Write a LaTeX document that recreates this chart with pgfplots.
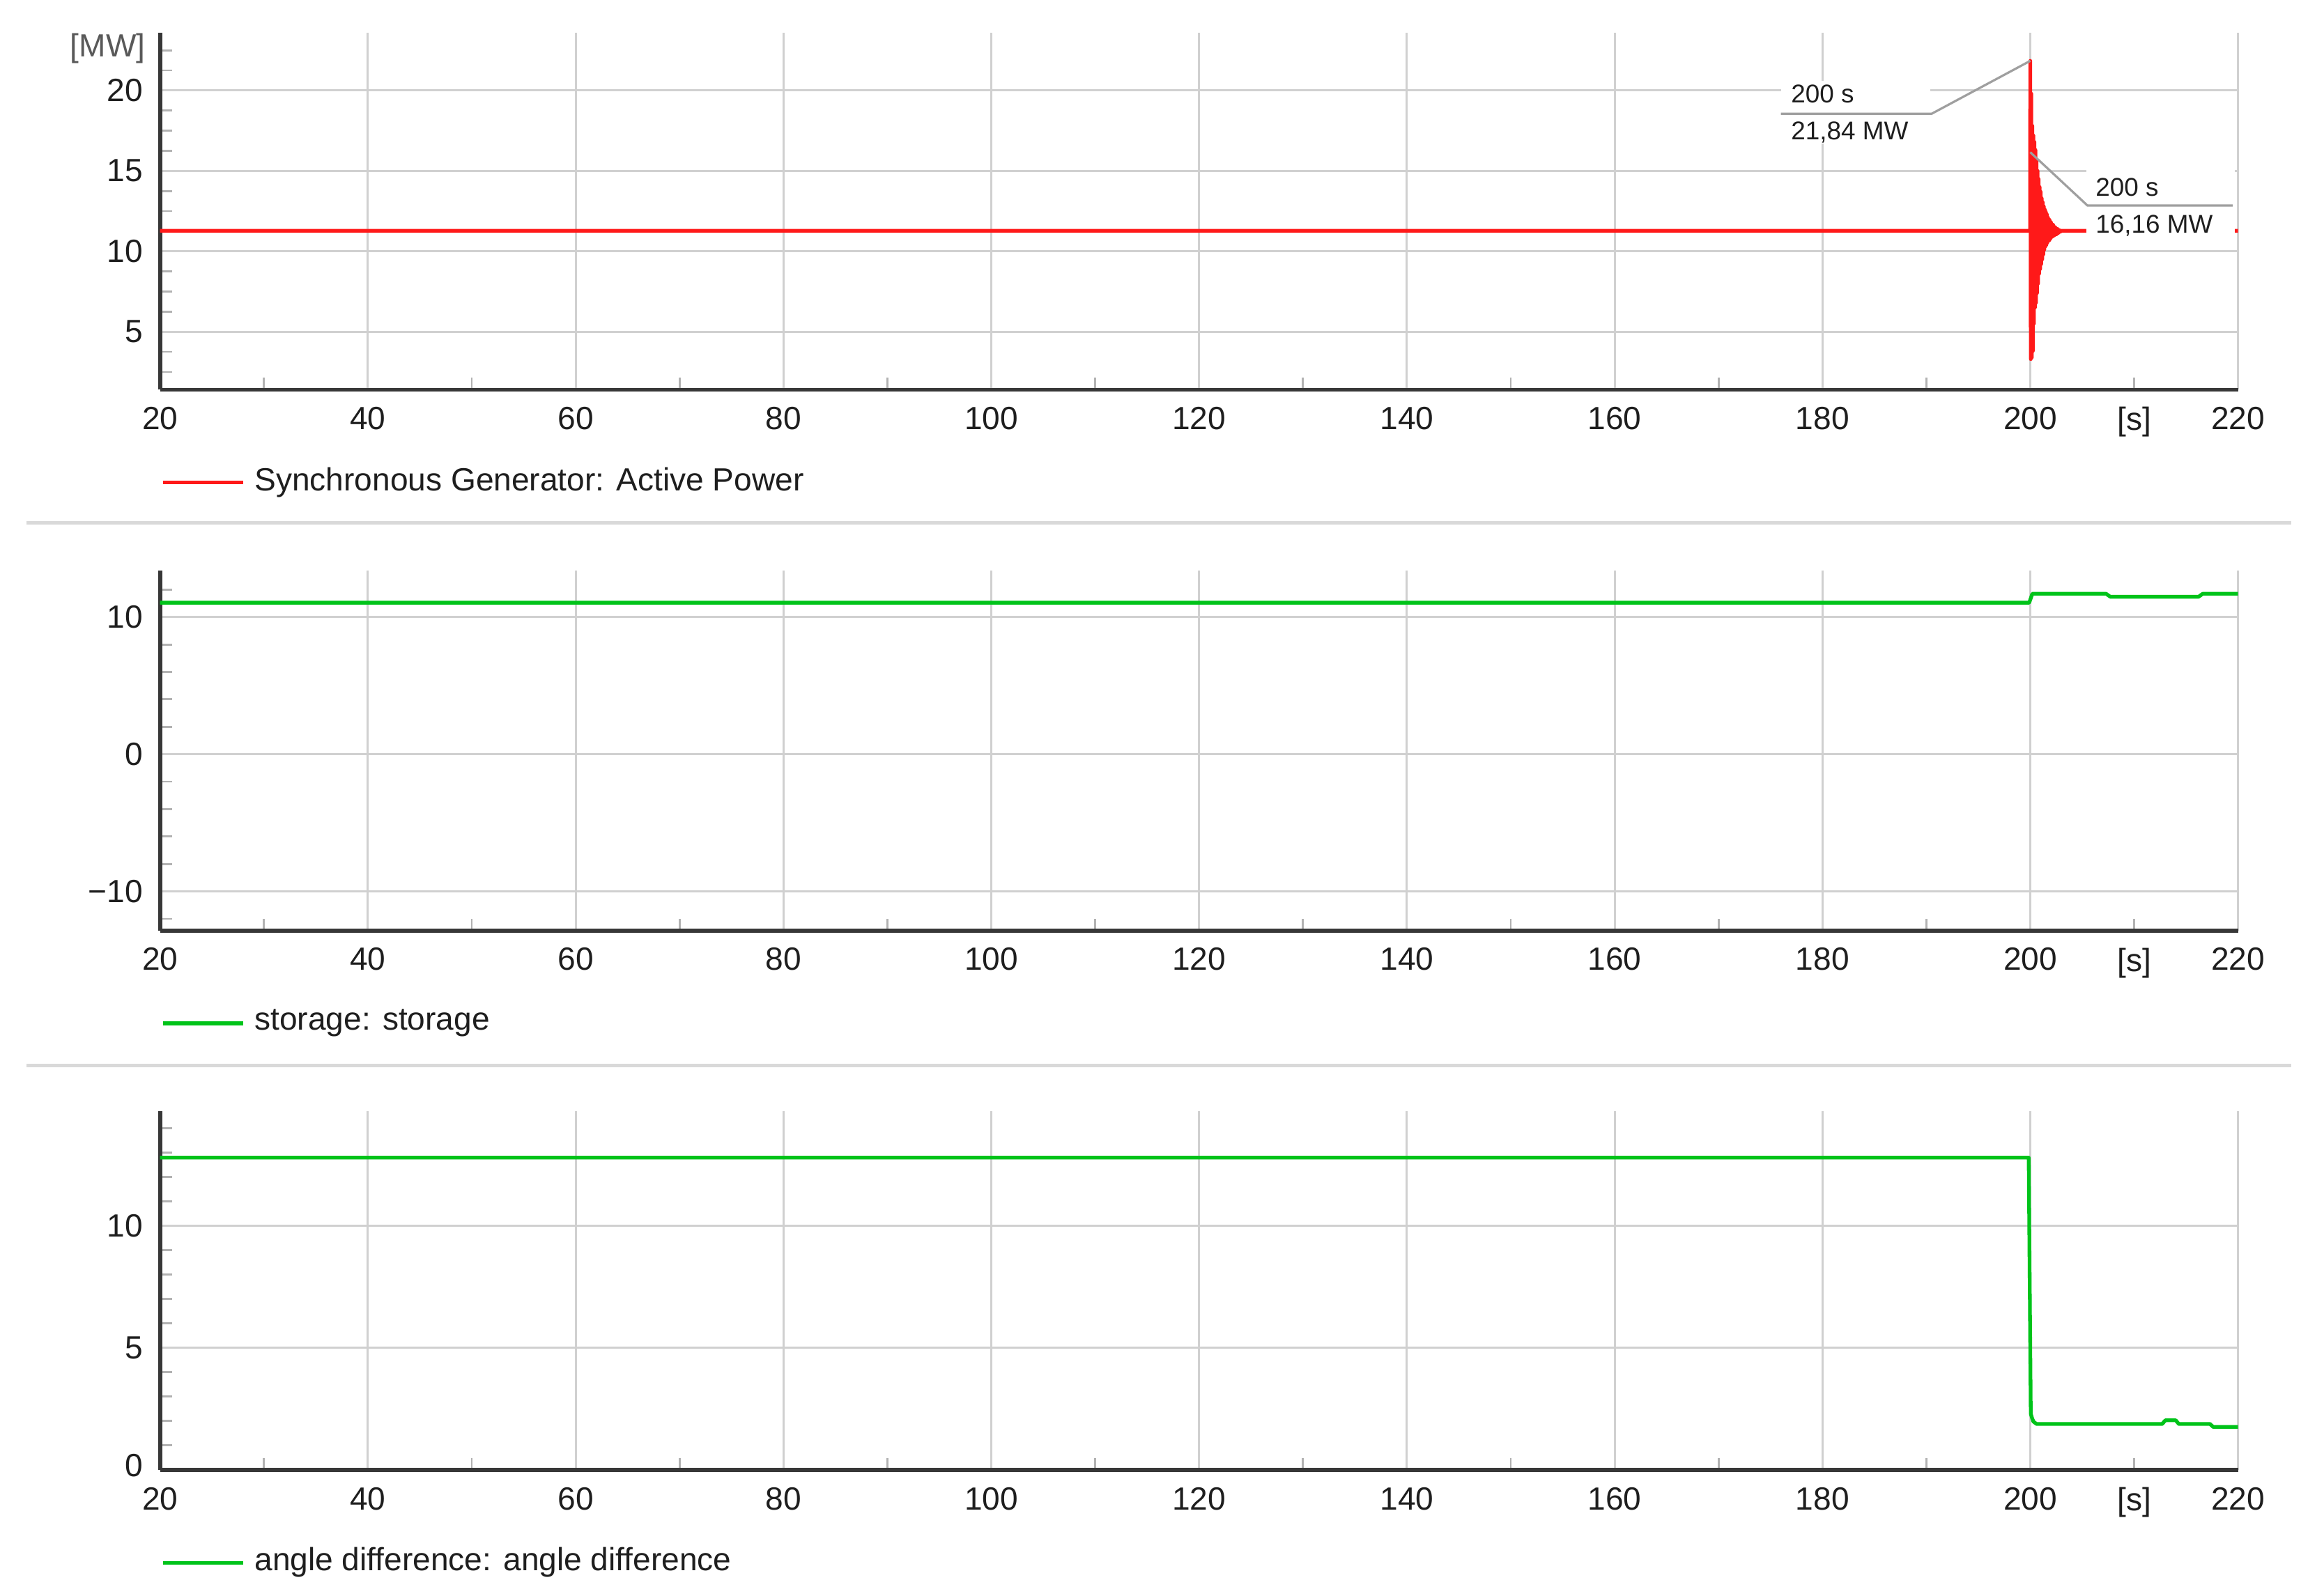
\documentclass[border=0pt]{standalone}
\usepackage{fontspec}
\setmainfont{Liberation Sans}
\usepackage{pgfplots}
\pgfplotsset{compat=1.18}
\definecolor{pfred}{RGB}{255,25,25}
\definecolor{pfgreen}{RGB}{0,195,25}
\definecolor{gridgray}{RGB}{208,208,208}
\definecolor{axisgray}{RGB}{55,55,55}
\definecolor{labelgray}{RGB}{30,30,30}
\newcommand{\lblfont}{\fontsize{6.5}{7.8}\selectfont}
\newcommand{\notefont}{\fontsize{5.2}{6.2}\selectfont}

\pgfplotsset{
  panel/.style={
    scale only axis,
    width=420.6pt,
    anchor=south west,
    xmin=20, xmax=220,
    axis x line*=bottom,
    axis y line*=left,
    axis line style={-, draw=axisgray, line width=0.8pt},
    xtick={20,40,...,220},
    minor xtick={30,50,...,210},
    extra x ticks={210},
    extra x tick labels={{[s]}},
    extra x tick style={grid=none},
    grid=major,
    major grid style={draw=gridgray, line width=0.4pt},
    tick align=inside,
    major tick length=0pt,
    minor tick length=2.4pt,
    minor tick style={draw=gray!60, line width=0.4pt},
    tick label style={font=\lblfont, text=labelgray},
    xticklabel style={yshift=0pt},
    yticklabel style={xshift=0pt},
    /pgf/number format/assume math mode=true,
    legend style={at={(axis description cs:0,0)}, anchor=west, yshift=-18.8pt,
      draw=none, fill=none, inner sep=0pt, font=\lblfont, text=labelgray,
      nodes={inner sep=0pt}, column sep=2pt},
    legend image code/.code={\draw[##1, line width=0.75pt] (0pt,0pt) -- (16.2pt,0pt);},
    legend cell align=left,
  },
}
\tikzset{note/.style={anchor=west, inner sep=0pt, font=\notefont, text=labelgray}}

\begin{document}
\begin{tikzpicture}
\path[use as bounding box] (0pt,0pt) rectangle (470.4pt,323.1pt);

% separators between the panels
\draw[draw=gray!30, line width=0.7pt] (5.4pt,217.2pt) -- (463.8pt,217.2pt);
\draw[draw=gray!30, line width=0.7pt] (5.4pt,107.4pt) -- (463.8pt,107.4pt);

% unit of the first panel
\node[anchor=east, inner sep=0pt, font=\lblfont, text=black!65] at (29.6pt,313.3pt) {[MW]};

% active power
\begin{axis}[panel, at={(32.4pt,244.2pt)}, height=72.3pt,
  ymin=1.4, ymax=23.6, ytick={5,10,15,20},
  minor ytick={2.5,3.75,6.25,7.5,8.75,11.25,12.5,13.75,16.25,17.5,18.75,21.25,22.5}]
\addplot[pfred, line width=0.75pt, line join=round] coordinates {
(20,11.28) (199.98,11.28) (200.00,21.84) (200.05,3.3) (200.10,19.8) (200.15,3.4)
(200.20,17.8) (200.25,3.8) (200.30,17.2) (200.35,5.5) (200.40,16.8) (200.45,6.5)
(200.50,16.3) (200.55,6.8) (200.60,15.6) (200.65,7.4) (200.70,15.0) (200.75,8.0)
(200.80,14.5) (200.85,8.6) (200.90,14.0) (200.95,8.9) (201.00,13.7) (201.05,9.2)
(201.10,13.3) (201.15,9.5) (201.20,13.05) (201.25,9.8) (201.30,12.8) (201.35,10.1)
(201.40,12.6) (201.45,10.3) (201.50,12.45) (201.55,10.4) (201.60,12.3) (201.65,10.55)
(201.70,12.1) (201.75,10.65) (201.80,12.0) (201.85,10.7) (201.90,11.9) (201.95,10.8)
(202.00,11.8) (202.10,10.9) (202.20,11.65) (202.30,10.98) (202.40,11.5) (202.50,11.05)
(202.60,11.4) (202.70,11.12) (202.80,11.33) (202.90,11.22) (203.00,11.28) (220,11.28)};
\legend{Synchronous Generator: Active Power}
% value labels
\fill[white] (axis cs:176,16.7) rectangle (axis cs:190.4,20.6);
\draw[gray!75, line width=0.45pt] (axis cs:176,18.55) -- (axis cs:190.5,18.55) -- (axis cs:200,21.84);
\node[note] at (axis cs:176.9,19.8) {200 s};
\node[note] at (axis cs:176.9,17.4) {21,84 MW};
\fill[white] (axis cs:205.4,10.85) rectangle (axis cs:219.7,15.25);
\draw[gray!75, line width=0.45pt] (axis cs:200,16.16) -- (axis cs:205.5,12.85) -- (axis cs:219.5,12.85);
\node[note] at (axis cs:206.2,14.0) {200 s};
\node[note] at (axis cs:206.2,11.6) {16,16 MW};
\end{axis}

% storage
\begin{axis}[panel, at={(32.4pt,134.7pt)}, height=72.9pt,
  ymin=-12.85, ymax=13.4, ytick={-10,0,10}, yticklabels={−10,0,10},
  minor ytick={-12,-8,-6,-4,-2,2,4,6,8,12}]
\addplot[pfgreen, line width=0.75pt, line join=round] coordinates {
(20,11.05) (199.9,11.05) (200.2,11.7) (207.3,11.7) (207.7,11.48) (216.2,11.48)
(216.6,11.7) (220,11.7)};
\legend{storage: storage}
\end{axis}

% angle difference
\begin{axis}[panel, at={(32.4pt,25.5pt)}, height=72.6pt,
  ymin=0, ymax=14.7, ytick={0,5,10}, yticklabels={\raisebox{1.8pt}{0},5,10},
  minor ytick={1,2,3,4,6,7,8,9,11,12,13,14}]
\addplot[pfgreen, line width=0.75pt, line join=round] coordinates {
(20,12.8) (199.85,12.8) (200.05,2.3) (200.15,2.15) (200.3,1.98) (200.6,1.88)
(212.7,1.88) (213.0,2.03) (214.0,2.03) (214.3,1.88) (217.3,1.88) (217.6,1.76) (220,1.76)};
\legend{angle difference: angle difference}
\end{axis}
\end{tikzpicture}
\end{document}
